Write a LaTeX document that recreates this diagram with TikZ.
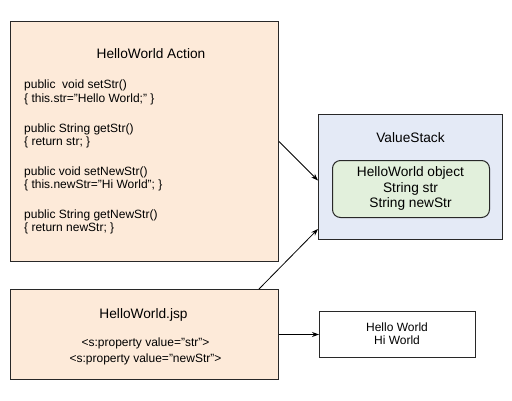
\documentclass[tikz,border=0pt]{standalone}
\usepackage{fontspec}
\setmainfont{Liberation Sans}
\usetikzlibrary{arrows.meta}
\definecolor{peach}{RGB}{253,234,217}
\definecolor{vsblue}{RGB}{228,234,246}
\definecolor{objgreen}{RGB}{226,240,220}
\definecolor{edge}{RGB}{40,40,40}
\tikzset{
  box/.style={draw=edge, line width=1pt, inner sep=0pt},
  ttl/.style={font=\fontsize{13.7}{16}\selectfont, inner sep=0pt, anchor=base},
  txt/.style={font=\fontsize{12}{14}\selectfont, inner sep=0pt, anchor=base},
  code/.style={font=\fontsize{12}{14}\selectfont, inner sep=0pt, anchor=base west},
  conn/.style={draw=black, line width=0.8pt, -{Stealth[length=7pt,width=5pt]}}
}
\begin{document}
\begin{tikzpicture}[x=1pt,y=1pt]
\useasboundingbox (0,0) rectangle (512,-400);
% boxes
\node[box, fill=peach, minimum width=268pt, minimum height=240pt, anchor=north west] (act) at (10,-21) {};
\node[box, fill=peach, minimum width=268pt, minimum height=90pt, anchor=north west] (jsp) at (10,-289) {};
\node[box, fill=white, minimum width=156pt, minimum height=46pt, anchor=north west] (out) at (319,-311) {};
\node[box, fill=vsblue, minimum width=184pt, minimum height=125pt, anchor=north west] (vs) at (318,-114) {};
\node[box, fill=objgreen, rounded corners=8pt, minimum width=157pt, minimum height=57pt, anchor=north west] (obj) at (332,-160) {};
% action text
\node[ttl] (actT) at (151,-58) {HelloWorld Action};
\node[code] (c1) at (24,-88) {public\ \ void setStr()};
\node[code] (c2) at (24,-102) {\{ this.str="Hello World;" \}};
\node[code] (c3) at (24,-132) {public String getStr()};
\node[code] (c4) at (24,-145) {\{ return str; \}};
\node[code] (c5) at (24,-175) {public void setNewStr()};
\node[code] (c6) at (24,-188) {\{ this.newStr="Hi World"; \}};
\node[code] (c7) at (24,-218) {public String getNewStr()};
\node[code] (c8) at (24,-231) {\{ return newStr; \}};
% value stack text
\node[ttl] (vsT) at (410.5,-142) {ValueStack};
\node[ttl] (o1) at (410.5,-176) {HelloWorld object};
\node[ttl] (o2) at (410.5,-192) {String str};
\node[ttl] (o3) at (410.5,-207) {String newStr};
% jsp text
\node[ttl] (jspT) at (143.5,-318) {HelloWorld.jsp};
\node[txt] (j1) at (145.5,-346) {<s:property value="str">};
\node[txt] (j2) at (145.5,-362) {<s:property value="newStr">};
% output text
\node[txt] (r1) at (397,-331) {Hello World};
\node[txt] (r2) at (397,-344) {Hi World};
% connectors
\draw[conn] (act.east) -- ([yshift=-3.5pt]vs.west);
\draw[conn] ([xshift=-20pt]jsp.north east) -- ([yshift=11pt]vs.south west);
\draw[conn] (jsp.east) -- (out.west);
\end{tikzpicture}
\end{document}
